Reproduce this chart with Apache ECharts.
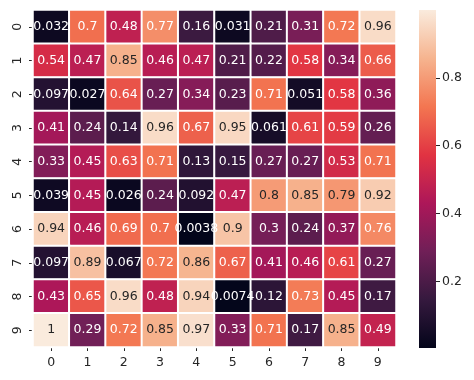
<!DOCTYPE html>
<html><head><meta charset="utf-8">
<script src="https://cdn.jsdelivr.net/npm/echarts@6/dist/echarts.min.js"></script>
<style>html,body{margin:0;padding:0;background:#fff}#c{width:474px;height:380px}</style>
</head><body><div id="c"></div>
<script>
const xLabels = ['0','1','2','3','4','5','6','7','8','9'];
const yLabels = ['0','1','2','3','4','5','6','7','8','9'];
const row0 = [0.032, 0.7, 0.48, 0.77, 0.16, 0.031, 0.21, 0.31, 0.72, 0.96];
const row1 = [0.54, 0.47, 0.85, 0.46, 0.47, 0.21, 0.22, 0.58, 0.34, 0.66];
const row2 = [0.097, 0.027, 0.64, 0.27, 0.34, 0.23, 0.71, 0.051, 0.58, 0.36];
const row3 = [0.41, 0.24, 0.14, 0.96, 0.67, 0.95, 0.061, 0.61, 0.59, 0.26];
const row4 = [0.33, 0.45, 0.63, 0.71, 0.13, 0.15, 0.27, 0.27, 0.53, 0.71];
const row5 = [0.039, 0.45, 0.026, 0.24, 0.092, 0.47, 0.8, 0.85, 0.79, 0.92];
const row6 = [0.94, 0.46, 0.69, 0.7, 0.0038, 0.9, 0.3, 0.24, 0.37, 0.76];
const row7 = [0.097, 0.89, 0.067, 0.72, 0.86, 0.67, 0.41, 0.46, 0.61, 0.27];
const row8 = [0.43, 0.65, 0.96, 0.48, 0.94, 0.0074, 0.12, 0.73, 0.45, 0.17];
const row9 = [1, 0.29, 0.72, 0.85, 0.97, 0.33, 0.71, 0.17, 0.85, 0.49];
const rows = [row0,row1,row2,row3,row4,row5,row6,row7,row8,row9];
const cbTicks = [0.2, 0.4, 0.6, 0.8];
const vMin = 0.0038, vMax = 1;
const rocket = ['#03051A','#35193e','#701f57','#ad1759','#e13342','#f37651','#f6b48f','#FAEBDD'];

const data = [];
rows.forEach((r, yi) => r.forEach((v, xi) => {
  data.push({value: [xi, yi, v], label: {color: v > 0.78 ? '#262626' : '#ffffff'}});
}));

const font = 'DejaVu Sans';
const chart = echarts.init(document.getElementById('c'));
chart.setOption({
  animation: false,
  textStyle: {fontFamily: font},
  grid: [
    {left: 33, top: 10, width: 363, height: 337},
    {left: 419, top: 10, width: 17, height: 338}
  ],
  xAxis: [
    {type: 'category', data: xLabels, gridIndex: 0, position: 'bottom',
     axisLine: {show: false}, splitLine: {show: false},
     axisTick: {show: true, alignWithLabel: true, length: 4, lineStyle: {color: '#262626', width: 1}},
     axisLabel: {color: '#262626', fontSize: 12.5, fontFamily: font, margin: 9}},
    {type: 'category', data: ['cb'], gridIndex: 1, show: false}
  ],
  yAxis: [
    {type: 'category', data: yLabels, gridIndex: 0, inverse: true,
     axisLine: {show: false}, splitLine: {show: false},
     axisTick: {show: true, alignWithLabel: true, length: 4, lineStyle: {color: '#262626', width: 1}},
     axisLabel: {color: '#262626', fontSize: 12.5, fontFamily: font, rotate: 90, margin: 9}},
    {type: 'value', gridIndex: 1, position: 'right', min: vMin, max: vMax,
     axisLine: {show: false}, splitLine: {show: false},
     axisTick: {show: true, length: 4, customValues: cbTicks, lineStyle: {color: '#262626', width: 1}},
     axisLabel: {color: '#262626', fontSize: 12.5, fontFamily: font, margin: 6, customValues: cbTicks,
       formatter: v => v.toFixed(1)}}
  ],
  visualMap: {show: false, type: 'continuous', min: vMin, max: vMax, dimension: 2, seriesIndex: 0,
    inRange: {color: rocket}},
  series: [
    {type: 'heatmap', xAxisIndex: 0, yAxisIndex: 0, data: data,
     itemStyle: {borderColor: '#ffffff', borderWidth: 2},
     label: {show: true, fontSize: 12.5, fontFamily: font, formatter: p => String(p.value[2])},
     emphasis: {disabled: true}},
    {type: 'bar', xAxisIndex: 1, yAxisIndex: 1, data: [vMax], barWidth: '100%',
     itemStyle: {color: new echarts.graphic.LinearGradient(0, 1, 0, 0,
        rocket.map((c, i) => ({offset: i / (rocket.length - 1), color: c})))},
     silent: true}
  ]
});
</script></body></html>
